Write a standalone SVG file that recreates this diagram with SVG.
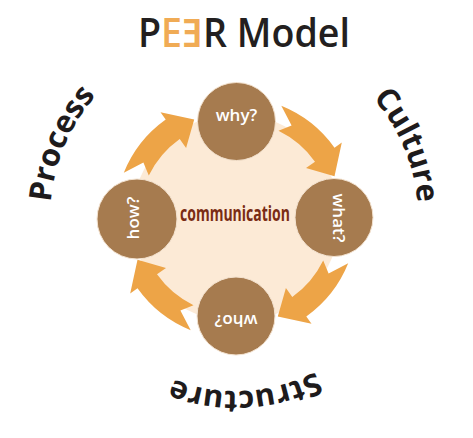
<svg xmlns="http://www.w3.org/2000/svg" xmlns:xlink="http://www.w3.org/1999/xlink" width="473" height="438" viewBox="0 0 473 438">
  <style>
    .node { fill: #a67b4f; stroke: #f3e2cf; stroke-width: 1; }
    .nlabel { font-family: "Open Sans", "Liberation Sans", sans-serif; font-weight: 600; font-size: 17px; fill: #ffffff; text-anchor: middle; }
    .arc { font-family: "Open Sans", "Liberation Sans", sans-serif; font-weight: 700; font-size: 31px; fill: #1e1b1c; text-anchor: middle; }
    .arrow { fill: #eda447; }
  </style>
  <defs>
    <path id="arr" d="M281.3,105.8 A121,121 0 0 1 334.5,147.7 L341.8,142.5 L334.5,176.2 L306.0,168.1 L315.0,161.7 A97,97 0 0 0 278.5,130.8 L291.6,125.4 Z"/>
    <path id="pProcess" d="M58.1,272.4 A186,186 0 0 1 151.6,52.3"/>
    <path id="pCulture" d="M318.6,55.8 A182,182 0 0 1 410.0,271.2"/>
    <path id="pStructure" d="M374.2,322.1 A173,173 0 0 1 109.5,336.0"/>
  </defs>
  <rect width="473" height="438" fill="#ffffff"/>

  <g id="title">
    <text x="138" y="47" textLength="212" lengthAdjust="spacingAndGlyphs" font-family="'Open Sans', 'Noto Sans', 'DejaVu Sans', sans-serif" font-weight="600" font-size="40" fill="#231f20">P<tspan fill="#f0ab55">EƎ</tspan>R Model</text>
  </g>

  <g id="hub">
    <circle cx="236" cy="218" r="104" fill="#fcead6"/>
    <text x="235" y="221" text-anchor="middle" textLength="110" lengthAdjust="spacingAndGlyphs" font-family="'Open Sans', 'Liberation Sans', sans-serif" font-weight="700" font-size="21" fill="#7a2c14">communication</text>
  </g>

  <g id="connectors">
    <use xlink:href="#arr" class="arrow"/>
    <use xlink:href="#arr" class="arrow" transform="rotate(90 236 218)"/>
    <use xlink:href="#arr" class="arrow" transform="rotate(180 236 218)"/>
    <use xlink:href="#arr" class="arrow" transform="rotate(270 236 218)"/>
  </g>

  <g id="why">
    <circle class="node" cx="236.5" cy="121.5" r="39"/>
    <text class="nlabel" x="236.5" y="121">why?</text>
  </g>
  <g id="what">
    <circle class="node" cx="334" cy="217.5" r="39"/>
    <text class="nlabel" x="236" y="121" transform="rotate(90 236 218)">what?</text>
  </g>
  <g id="who">
    <circle class="node" cx="236" cy="316" r="39"/>
    <text class="nlabel" x="236" y="121" transform="rotate(180 236 218)">who?</text>
  </g>
  <g id="how">
    <circle class="node" cx="137" cy="219" r="40"/>
    <text class="nlabel" x="236" y="121" transform="rotate(270 236 218)">how?</text>
  </g>

  <g id="labels">
    <text class="arc"><textPath xlink:href="#pProcess" startOffset="50%">Process</textPath></text>
    <text class="arc"><textPath xlink:href="#pCulture" startOffset="50%">Culture</textPath></text>
    <text class="arc"><textPath xlink:href="#pStructure" startOffset="50%">Structure</textPath></text>
  </g>
</svg>
